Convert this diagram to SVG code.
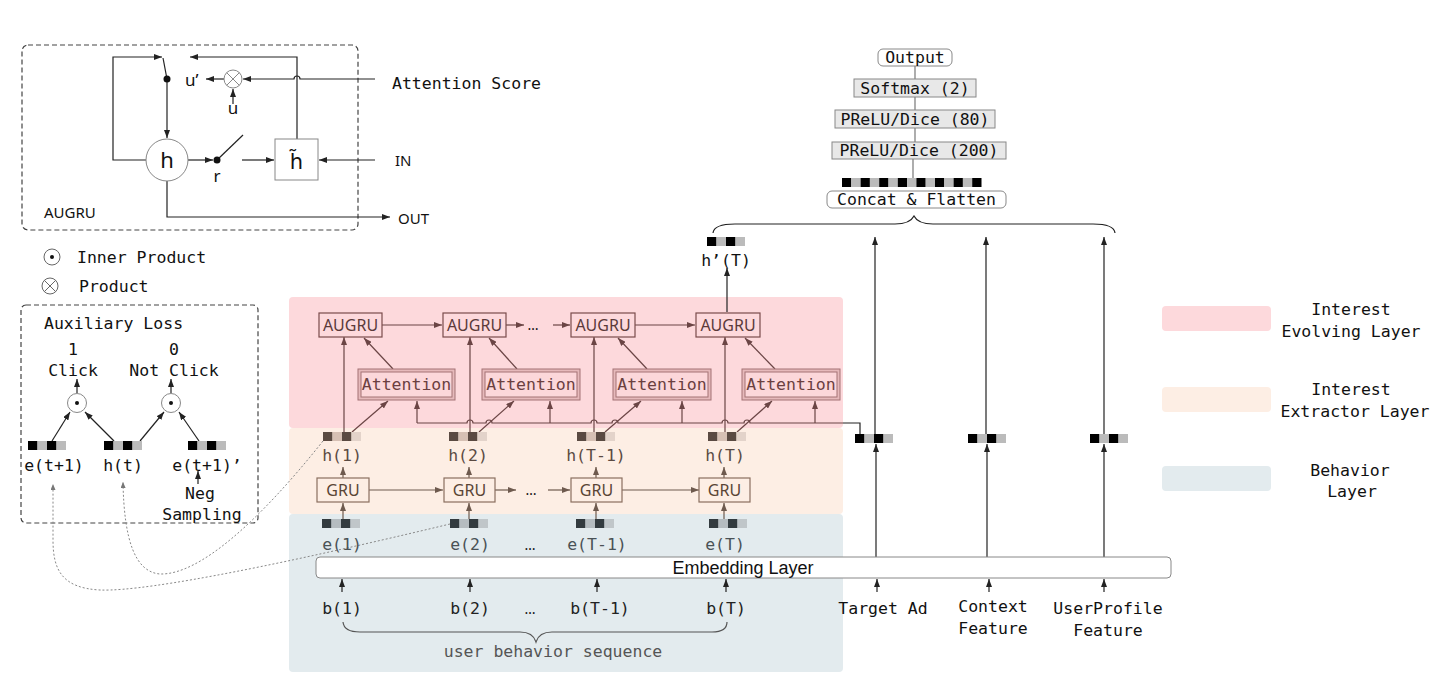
<svg xmlns="http://www.w3.org/2000/svg" width="1440" height="686" viewBox="0 0 1440 686">
<style>
.mono{font-family:"DejaVu Sans Mono","Liberation Mono",monospace;font-size:16.5px;fill:#111}
.sans{font-family:"Noto Sans","Liberation Sans",sans-serif;fill:#111}
.c{text-anchor:middle}
.k{fill:none;stroke:#222;stroke-width:1.2}
.br{fill:none;stroke:#6b4545;stroke-width:1.2}
.gr{fill:none;stroke:#6e5a4e;stroke-width:1.2}
.dot{fill:none;stroke:#888;stroke-width:1;stroke-dasharray:2 2}
.g7{fill:none;stroke:#777;stroke-width:1.2}
.augru rect{fill:none;stroke:#7a4b4b;stroke-width:1.2}
.augru text{fill:#5b3a3a;font-size:16px}
.att .o{fill:#e6b9bb;stroke:#a37375;stroke-width:1}
.att .i{fill:#fcd7da;stroke:#a37375;stroke-width:1}
.att text{fill:#6b4040}
.gru rect{fill:none;stroke:#8a6f5f;stroke-width:1.2}
.gru text{fill:#5a4535;font-size:16px}
.dense{fill:#e8e8e8;stroke:#888;stroke-width:1}
.wbox{fill:#fff;stroke:#888;stroke-width:1}
</style>
<defs>
<marker id="ak" markerWidth="8" markerHeight="6" refX="8" refY="3" orient="auto" markerUnits="userSpaceOnUse"><path d="M0,0 L8,3 L0,6 z" fill="#222"/></marker>
<marker id="ab" markerWidth="8" markerHeight="6" refX="8" refY="3" orient="auto" markerUnits="userSpaceOnUse"><path d="M0,0 L8,3 L0,6 z" fill="#6b4545"/></marker>
<marker id="ag" markerWidth="8" markerHeight="6" refX="8" refY="3" orient="auto" markerUnits="userSpaceOnUse"><path d="M0,0 L8,3 L0,6 z" fill="#6e5a4e"/></marker>
<marker id="ad" markerWidth="6" markerHeight="5" refX="6" refY="2.5" orient="auto" markerUnits="userSpaceOnUse"><path d="M0,0 L6,2.5 L0,5 z" fill="#777"/></marker>
<g id="vk"><rect x="0" y="0" width="9.5" height="9" fill="#000"/><rect x="9.5" y="0" width="9.5" height="9" fill="#bbb"/><rect x="19" y="0" width="9.5" height="9" fill="#000"/><rect x="28.5" y="0" width="9.5" height="9" fill="#bbb"/></g>
<g id="vh"><rect x="0" y="0" width="9.5" height="9" fill="#5a4a42"/><rect x="9.5" y="0" width="9.5" height="9" fill="#d6c0b4"/><rect x="19" y="0" width="9.5" height="9" fill="#5a4a42"/><rect x="28.5" y="0" width="9.5" height="9" fill="#e3d3ca"/></g>
<g id="ve"><rect x="0" y="0" width="9.5" height="9" fill="#333b3f"/><rect x="9.5" y="0" width="9.5" height="9" fill="#b5bcc0"/><rect x="19" y="0" width="9.5" height="9" fill="#333b3f"/><rect x="28.5" y="0" width="9.5" height="9" fill="#c0c6c9"/></g>
</defs>
<rect width="1440" height="686" fill="#fff"/>

<!-- layer backgrounds -->
<g id="layers">
<rect x="289" y="297" width="554" height="131" rx="4" fill="#fdd9dc"/>
<rect x="289" y="428" width="554" height="86" rx="4" fill="#fdeee4"/>
<rect x="289" y="514" width="554" height="158" rx="4" fill="#e3ebee"/>
</g>

<!-- AUGRU cell detail -->
<g id="augru-cell">
<rect x="22" y="45" width="336" height="185" rx="6" fill="none" stroke="#444" stroke-width="1.2" stroke-dasharray="5 3"/>
<path class="k" d="M146 160 H113 V57 H162" marker-end="url(#ak)"/>
<path class="k" d="M163 58 L167 79"/>
<path class="k" d="M167 79 V138" marker-end="url(#ak)"/>
<path class="k" d="M188 160 H213" marker-end="url(#ak)"/>
<path class="k" d="M217 160 L243 135"/>
<path class="k" d="M242 160 H274" marker-end="url(#ak)"/>
<path class="k" d="M297 139 V57 H190" marker-end="url(#ak)"/>
<path class="k" d="M375 79 H300 A3 3 0 0 0 294 79 H243" marker-end="url(#ak)"/>
<path class="k" d="M224 79 H206" marker-end="url(#ak)"/>
<path class="k" d="M233 104 V89" marker-end="url(#ak)"/>
<path class="k" d="M375 160 H319" marker-end="url(#ak)"/>
<path class="k" d="M167 181 V217 H390" marker-end="url(#ak)"/>
<circle cx="167" cy="160" r="21" fill="#fff" stroke="#888" stroke-width="1"/>
<text class="sans c" x="167" y="168" font-size="22">h</text>
<rect x="275" y="139" width="43" height="41" fill="#fff" stroke="#888" stroke-width="1"/>
<text class="c" x="296.5" y="169" font-family="DejaVu Sans, sans-serif" font-size="21" fill="#111">h̃</text>
<circle cx="233" cy="79" r="9" fill="#fff" stroke="#888" stroke-width="1"/>
<path d="M226.6 72.6 L239.4 85.4 M239.4 72.6 L226.6 85.4" stroke="#888" stroke-width="1"/>
<circle cx="217" cy="160" r="3.5" fill="#111"/>
<circle cx="167" cy="79" r="3.5" fill="#111"/>
<text class="sans" x="185" y="86" font-size="17">u’</text>
<text class="sans c" x="233" y="114" font-size="17">u</text>
<text class="sans c" x="217" y="182" font-size="17">r</text>
<text class="sans" x="44" y="218" font-size="15">AUGRU</text>
<text class="mono" x="392" y="89">Attention Score</text>
<text class="sans" x="395" y="166" font-size="15">IN</text>
<text class="sans" x="398" y="224" font-size="15">OUT</text>
</g>

<!-- operator legend -->
<g id="op-legend">
<circle cx="52" cy="257" r="8" fill="#fff" stroke="#666" stroke-width="1"/>
<circle cx="52" cy="257" r="2" fill="#111"/>
<text class="mono" x="77" y="263">Inner Product</text>
<circle cx="50" cy="286" r="8" fill="#fff" stroke="#666" stroke-width="1"/>
<path d="M44.3 280.3 L55.7 291.7 M55.7 280.3 L44.3 291.7" stroke="#666" stroke-width="1"/>
<text class="mono" x="79" y="292">Product</text>
</g>

<!-- auxiliary loss -->
<g id="aux-loss">
<rect x="21" y="305" width="237" height="218" rx="5" fill="none" stroke="#444" stroke-width="1.2" stroke-dasharray="5 3"/>
<text class="mono" x="44" y="329">Auxiliary Loss</text>
<text class="mono c" x="73" y="355">1</text>
<text class="mono c" x="73" y="376">Click</text>
<text class="mono c" x="174" y="355">0</text>
<text class="mono c" x="174" y="376">Not Click</text>
<path class="k" d="M77 393 V379" marker-end="url(#ak)"/>
<path class="k" d="M171 393 V379" marker-end="url(#ak)"/>
<path class="k" d="M52 441 L70 412" marker-end="url(#ak)"/>
<path class="k" d="M114 441 L85 412" marker-end="url(#ak)"/>
<path class="k" d="M140 441 L164 412" marker-end="url(#ak)"/>
<path class="k" d="M199 441 L179 412" marker-end="url(#ak)"/>
<circle cx="77" cy="403" r="9.5" fill="#fff" stroke="#888" stroke-width="1"/>
<circle cx="77" cy="403" r="2" fill="#111"/>
<circle cx="171" cy="403" r="9.5" fill="#fff" stroke="#888" stroke-width="1"/>
<circle cx="171" cy="403" r="2" fill="#111"/>
<use href="#vk" x="28" y="441"/>
<use href="#vk" x="104" y="441"/>
<use href="#vk" x="188" y="441"/>
<text class="mono c" x="54" y="471">e(t+1)</text>
<text class="mono c" x="123" y="471">h(t)</text>
<text class="mono c" x="207" y="471">e(t+1)’</text>
<path class="k" d="M198 484 V471" marker-end="url(#ak)"/>
<text class="mono c" x="200" y="499">Neg</text>
<text class="mono c" x="202" y="520">Sampling</text>
</g>

<!-- connectors -->
<g id="connectors">
<path class="dot" d="M450 524 C300 560 150 592 100 590 C62 588 53 570 53 540 L53 484" marker-end="url(#ad)"/>
<path class="dot" d="M323 441 C260 520 200 575 160 574 C135 572 124 540 123 482" marker-end="url(#ad)"/>
<path class="br" d="M382 325 H442" marker-end="url(#ab)"/>
<path class="br" d="M506 325 H524" marker-end="url(#ab)"/>
<path class="br" d="M553 325 H570" marker-end="url(#ab)"/>
<path class="br" d="M635 325 H695" marker-end="url(#ab)"/>
<path class="br" d="M344 432 V337" marker-end="url(#ab)"/>
<path class="br" d="M470 432 V337" marker-end="url(#ab)"/>
<path class="br" d="M594 432 V337" marker-end="url(#ab)"/>
<path class="br" d="M725 432 V337" marker-end="url(#ab)"/>
<path class="br" d="M393 369 L364 338" marker-end="url(#ab)"/>
<path class="br" d="M517 369 L489 338" marker-end="url(#ab)"/>
<path class="br" d="M647 369 L618 338" marker-end="url(#ab)"/>
<path class="br" d="M775 369 L745 338" marker-end="url(#ab)"/>
<path class="br" d="M352 432 L388 401" marker-end="url(#ab)"/>
<path class="br" d="M479 432 L514 401" marker-end="url(#ab)"/>
<path class="br" d="M605 432 L641 401" marker-end="url(#ab)"/>
<path class="br" d="M737 432 L772 401" marker-end="url(#ab)"/>
<path class="br" d="M417 423 H467 A3 3 0 0 1 473 423 H486 A3 3 0 0 1 492 423 H591 A3 3 0 0 1 597 423 H612 A3 3 0 0 1 618 423 H722 A3 3 0 0 1 728 423 H744 A3 3 0 0 1 750 423 H843"/>
<path class="k" d="M843 423 H860 V434"/>
<path class="br" d="M417 423 V401" marker-end="url(#ab)"/>
<path class="br" d="M550 423 V401" marker-end="url(#ab)"/>
<path class="br" d="M682 423 V401" marker-end="url(#ab)"/>
<path class="br" d="M815 423 V401" marker-end="url(#ab)"/>
<path class="k" d="M727 312 V268" marker-end="url(#ak)"/>
<path class="gr" d="M343 478 V467" marker-end="url(#ag)"/>
<path class="gr" d="M469 478 V467" marker-end="url(#ag)"/>
<path class="gr" d="M596 478 V467" marker-end="url(#ag)"/>
<path class="gr" d="M724 478 V467" marker-end="url(#ag)"/>
<path class="gr" d="M343 519 V503" marker-end="url(#ag)"/>
<path class="gr" d="M469 519 V503" marker-end="url(#ag)"/>
<path class="gr" d="M596 519 V503" marker-end="url(#ag)"/>
<path class="gr" d="M724 519 V503" marker-end="url(#ag)"/>
<path class="gr" d="M369 490 H443" marker-end="url(#ag)"/>
<path class="gr" d="M495 490 H516" marker-end="url(#ag)"/>
<path class="gr" d="M548 490 H570" marker-end="url(#ag)"/>
<path class="gr" d="M622 490 H699" marker-end="url(#ag)"/>
<path class="k" d="M342 592 V579" marker-end="url(#ak)"/>
<path class="k" d="M470 592 V579" marker-end="url(#ak)"/>
<path class="k" d="M597 592 V579" marker-end="url(#ak)"/>
<path class="k" d="M726 592 V579" marker-end="url(#ak)"/>
<path class="k" d="M877 592 V579" marker-end="url(#ak)"/>
<path class="k" d="M989 592 V579" marker-end="url(#ak)"/>
<path class="k" d="M1104 592 V579" marker-end="url(#ak)"/>
<path class="k" d="M876 557 V444" marker-end="url(#ak)"/>
<path class="k" d="M875 434 V237" marker-end="url(#ak)"/>
<path class="k" d="M987 557 V444" marker-end="url(#ak)"/>
<path class="k" d="M986 434 V237" marker-end="url(#ak)"/>
<path class="k" d="M1104 557 V444" marker-end="url(#ak)"/>
<path class="k" d="M1104 434 V237" marker-end="url(#ak)"/>
<path class="g7" d="M915 66 V79"/>
<path class="g7" d="M915 97 V110"/>
<path class="g7" d="M915 128 V142"/>
<path class="g7" d="M913 159 V178"/>
<path class="k" d="M713 233 Q714 224 735 224 H895 Q910 224 914 216 Q918 224 933 224 H1093 Q1114 224 1115 233"/>
<path fill="none" stroke="#555" stroke-width="1.2" d="M343 622 Q344 632 360 632 H520 Q533 632 536 642 Q539 632 552 632 H712 Q727 632 727 622"/>
</g>

<!-- interest evolving nodes -->
<g id="augru-1" class="augru"><rect x="319" y="313" width="63" height="24"/><text class="sans c" x="350.5" y="331">AUGRU</text></g>
<g id="augru-2" class="augru"><rect x="443" y="313" width="63" height="24"/><text class="sans c" x="474.5" y="331">AUGRU</text></g>
<g id="augru-3" class="augru"><rect x="571" y="313" width="64" height="24"/><text class="sans c" x="603" y="331">AUGRU</text></g>
<g id="augru-4" class="augru"><rect x="696" y="313" width="64" height="24"/><text class="sans c" x="728" y="331">AUGRU</text></g>
<text class="sans c" x="533" y="330" font-size="14" fill="#5b3a3a">…</text>
<g id="att-1" class="att"><rect class="o" x="358" y="369" width="97" height="31"/><rect class="i" x="361" y="372" width="91" height="25"/><text class="mono c" x="406.5" y="390">Attention</text></g>
<g id="att-2" class="att"><rect class="o" x="482" y="369" width="98" height="31"/><rect class="i" x="485" y="372" width="92" height="25"/><text class="mono c" x="531" y="390">Attention</text></g>
<g id="att-3" class="att"><rect class="o" x="613" y="369" width="98" height="31"/><rect class="i" x="616" y="372" width="92" height="25"/><text class="mono c" x="662" y="390">Attention</text></g>
<g id="att-4" class="att"><rect class="o" x="742" y="369" width="98" height="31"/><rect class="i" x="745" y="372" width="92" height="25"/><text class="mono c" x="791" y="390">Attention</text></g>

<!-- interest extractor nodes -->
<g id="h-vectors">
<use href="#vh" x="323" y="432"/><use href="#vh" x="449" y="432"/><use href="#vh" x="577" y="432"/><use href="#vh" x="708" y="432"/>
<text class="mono c" x="342" y="461" style="fill:#5a4a42">h(1)</text>
<text class="mono c" x="468" y="461" style="fill:#5a4a42">h(2)</text>
<text class="mono c" x="596" y="461" style="fill:#5a4a42">h(T-1)</text>
<text class="mono c" x="725" y="461" style="fill:#5a4a42">h(T)</text>
</g>
<g id="gru-1" class="gru"><rect x="317" y="478" width="52" height="24"/><text class="sans c" x="343" y="496">GRU</text></g>
<g id="gru-2" class="gru"><rect x="444" y="478" width="51" height="24"/><text class="sans c" x="469.5" y="496">GRU</text></g>
<g id="gru-3" class="gru"><rect x="571" y="478" width="51" height="24"/><text class="sans c" x="596.5" y="496">GRU</text></g>
<g id="gru-4" class="gru"><rect x="699" y="478" width="51" height="24"/><text class="sans c" x="724.5" y="496">GRU</text></g>
<text class="sans c" x="531" y="495" font-size="14" fill="#5a4535">…</text>

<!-- behavior layer nodes -->
<g id="e-vectors">
<use href="#ve" x="322" y="519"/><use href="#ve" x="450" y="519"/><use href="#ve" x="576" y="519"/><use href="#ve" x="709" y="519"/>
<text class="mono c" x="342" y="550" style="fill:#4a5256">e(1)</text>
<text class="mono c" x="470" y="550" style="fill:#4a5256">e(2)</text>
<text class="sans c" x="530" y="550" font-size="14" fill="#4a5256">…</text>
<text class="mono c" x="597" y="550" style="fill:#4a5256">e(T-1)</text>
<text class="mono c" x="725" y="550" style="fill:#4a5256">e(T)</text>
</g>
<g id="embedding">
<rect x="316" y="557" width="855" height="21" rx="4" fill="#fff" stroke="#888" stroke-width="1"/>
<text class="c" x="743" y="574" font-family="Liberation Sans, Arial, sans-serif" font-size="18" fill="#111">Embedding Layer</text>
</g>
<g id="b-inputs">
<text class="mono c" x="342" y="614" style="fill:#222">b(1)</text>
<text class="mono c" x="470" y="614" style="fill:#222">b(2)</text>
<text class="sans c" x="530" y="614" font-size="14" fill="#222">…</text>
<text class="mono c" x="600" y="614" style="fill:#222">b(T-1)</text>
<text class="mono c" x="726" y="614" style="fill:#222">b(T)</text>
<text class="mono c" x="553" y="657" style="fill:#555">user behavior sequence</text>
</g>

<!-- side features -->
<g id="target-ad"><use href="#vk" x="855" y="434"/><text class="mono c" x="883" y="614">Target Ad</text></g>
<g id="context"><use href="#vk" x="968" y="434"/><text class="mono c" x="993" y="612">Context</text><text class="mono c" x="993" y="634">Feature</text></g>
<g id="userprofile"><use href="#vk" x="1090" y="434"/><text class="mono c" x="1108" y="614">UserProfile</text><text class="mono c" x="1108" y="636">Feature</text></g>
<g id="h-prime"><use href="#vk" x="707" y="237"/><text class="mono c" x="726" y="266">h’(T)</text></g>

<!-- MLP stack -->
<g id="concat">
<rect x="842" y="178" width="9.3" height="9" fill="#000"/><rect x="851.3" y="178" width="9.3" height="9" fill="#bbb"/>
<rect x="860.6" y="178" width="9.3" height="9" fill="#000"/><rect x="869.9" y="178" width="9.3" height="9" fill="#bbb"/>
<rect x="879.2" y="178" width="9.3" height="9" fill="#000"/><rect x="888.5" y="178" width="9.3" height="9" fill="#bbb"/>
<rect x="897.8" y="178" width="9.3" height="9" fill="#000"/><rect x="907.1" y="178" width="9.3" height="9" fill="#bbb"/>
<rect x="916.4" y="178" width="9.3" height="9" fill="#000"/><rect x="925.7" y="178" width="9.3" height="9" fill="#bbb"/>
<rect x="935" y="178" width="9.3" height="9" fill="#000"/><rect x="944.3" y="178" width="9.3" height="9" fill="#bbb"/>
<rect x="953.6" y="178" width="9.3" height="9" fill="#000"/><rect x="962.9" y="178" width="9.3" height="9" fill="#bbb"/>
<rect x="972.2" y="178" width="9.3" height="9" fill="#000"/>
<rect class="wbox" x="827" y="191" width="179" height="17" rx="5"/>
<text class="mono c" x="916.5" y="205">Concat &amp; Flatten</text>
</g>
<g id="prelu-200"><rect class="dense" x="832" y="142" width="174" height="17"/><text class="mono c" x="919" y="156">PReLU/Dice (200)</text></g>
<g id="prelu-80"><rect class="dense" x="835" y="110" width="160" height="18"/><text class="mono c" x="915" y="125">PReLU/Dice (80)</text></g>
<g id="softmax"><rect class="dense" x="854" y="79" width="122" height="18"/><text class="mono c" x="915" y="94">Softmax (2)</text></g>
<g id="output"><rect class="wbox" x="878" y="49" width="74" height="17" rx="5"/><text class="mono c" x="915" y="63">Output</text></g>

<!-- layer legend -->
<g id="layer-legend">
<rect x="1162" y="306" width="109" height="25" rx="4" fill="#fdd9dc"/>
<text class="mono c" x="1351" y="315">Interest</text>
<text class="mono c" x="1351" y="337">Evolving Layer</text>
<rect x="1162" y="387" width="109" height="25" rx="4" fill="#fdeee4"/>
<text class="mono c" x="1351" y="395">Interest</text>
<text class="mono c" x="1355" y="417">Extractor Layer</text>
<rect x="1162" y="466" width="109" height="25" rx="4" fill="#e3ebee"/>
<text class="mono c" x="1350" y="476">Behavior</text>
<text class="mono c" x="1352" y="497">Layer</text>
</g>
</svg>
